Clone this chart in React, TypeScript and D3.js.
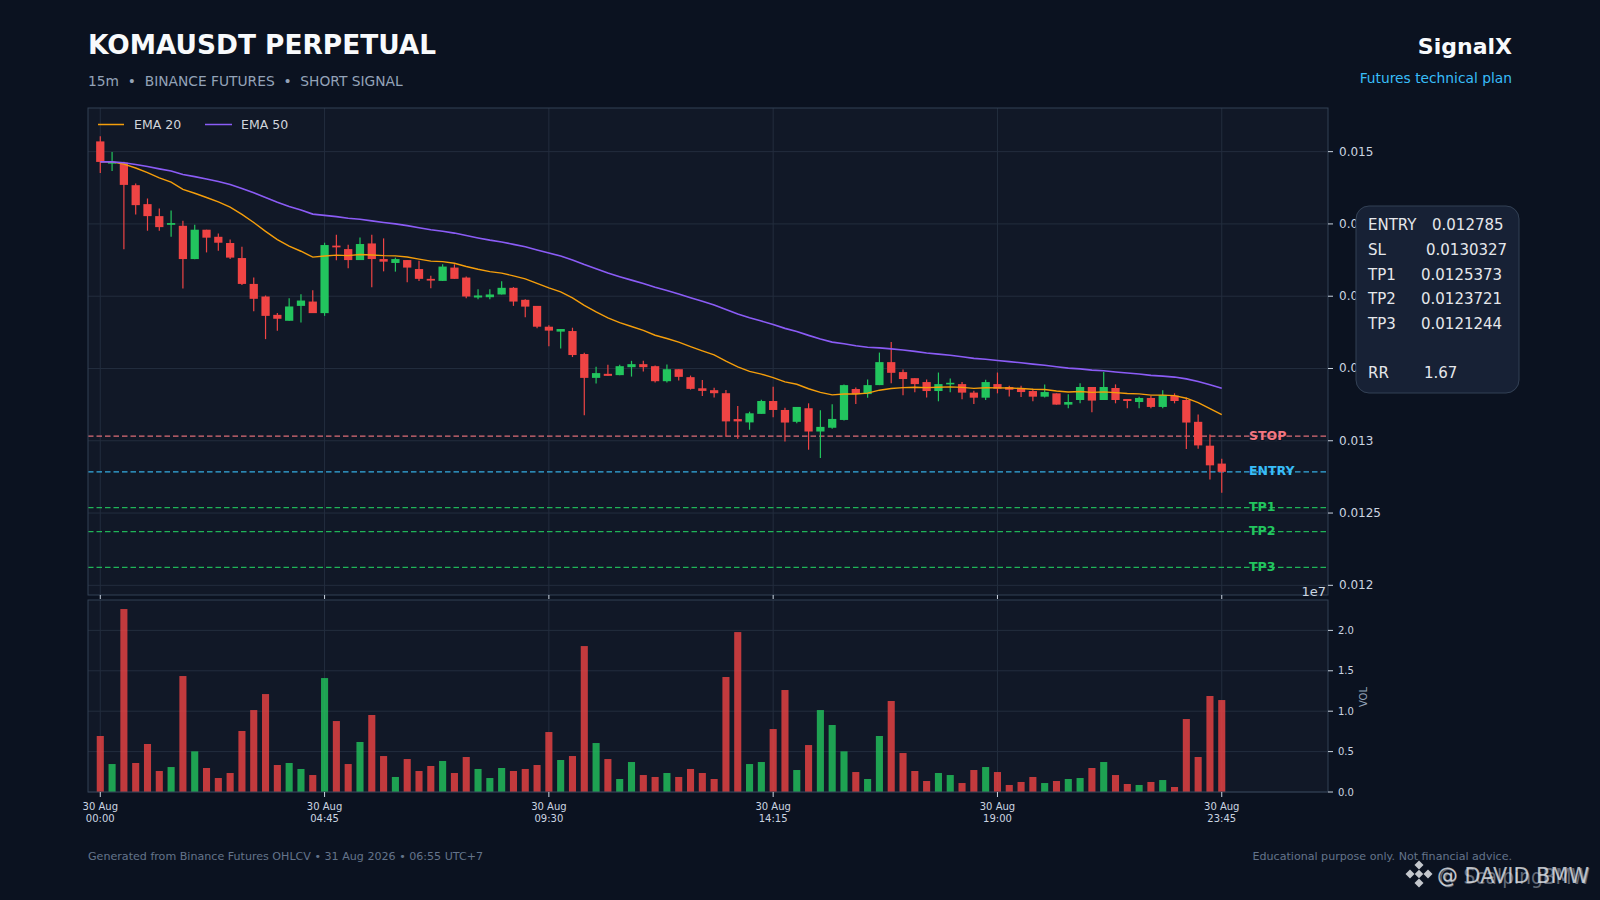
import { useEffect } from 'react'
import * as d3 from 'd3'

// 15m candles, 30 Aug 00:00 -> 23:45
const opens = [
  0.015071, 0.014917, 0.014924, 0.014768, 0.014637, 0.014554, 0.014494, 0.014487, 0.014257, 0.01446,
  0.014411, 0.014368, 0.014264, 0.014085, 0.013998, 0.013871, 0.01383, 0.013933, 0.013963, 0.013883,
  0.01435, 0.014326, 0.01425, 0.014365, 0.014257, 0.01423, 0.01425, 0.014188, 0.01412, 0.014106,
  0.014198, 0.014129, 0.013991, 0.013993, 0.014012, 0.014058, 0.013975, 0.013933, 0.013789, 0.013755,
  0.013759, 0.0136, 0.013435, 0.013463, 0.013454, 0.013509, 0.01353, 0.013516, 0.013412, 0.013495,
  0.01344, 0.013363, 0.01335, 0.013329, 0.01315, 0.013127, 0.013186, 0.013275, 0.013213, 0.013131,
  0.013225, 0.013064, 0.01309, 0.013144, 0.013358, 0.013323, 0.013385, 0.013544, 0.013475, 0.013433,
  0.013406, 0.013344, 0.01339, 0.013392, 0.013333, 0.013298, 0.013392, 0.013372, 0.01336, 0.013344,
  0.013305, 0.013328, 0.01325, 0.013282, 0.013372, 0.013282, 0.013365, 0.013289, 0.013268, 0.013296,
  0.013234, 0.013312, 0.013282, 0.013131, 0.012966, 0.012842,
]
const highs = [
  0.015106, 0.014998, 0.01493, 0.01478, 0.014676, 0.014607, 0.014593, 0.014522, 0.014494, 0.01446,
  0.014434, 0.014393, 0.014342, 0.014129, 0.014005, 0.013883, 0.013986, 0.014014, 0.014041, 0.01437,
  0.014425, 0.014356, 0.014407, 0.014425, 0.0144, 0.014267, 0.01425, 0.014246, 0.014142, 0.014221,
  0.014221, 0.014136, 0.014049, 0.014049, 0.014104, 0.014063, 0.013979, 0.013933, 0.013799, 0.013773,
  0.013782, 0.013609, 0.013512, 0.013525, 0.013525, 0.013553, 0.013553, 0.013521, 0.013528, 0.013495,
  0.013451, 0.013421, 0.013366, 0.013352, 0.013241, 0.013201, 0.013284, 0.013374, 0.013229, 0.013234,
  0.013259, 0.013211, 0.013252, 0.01339, 0.013369, 0.013424, 0.01361, 0.013683, 0.013493, 0.013433,
  0.013424, 0.013472, 0.013431, 0.013406, 0.013346, 0.013422, 0.013472, 0.013381, 0.013381, 0.01336,
  0.01339, 0.013328, 0.013321, 0.013397, 0.013372, 0.013475, 0.01339, 0.013289, 0.013305, 0.01331,
  0.013349, 0.013328, 0.0133, 0.013181, 0.013044, 0.012876,
]
const lows = [
  0.014853, 0.014867, 0.014324, 0.014565, 0.014453, 0.014453, 0.014411, 0.014053, 0.014255, 0.014303,
  0.014315, 0.014257, 0.014078, 0.013896, 0.013703, 0.013761, 0.01383, 0.013818, 0.013883, 0.013864,
  0.014248, 0.014193, 0.01425, 0.014062, 0.014172, 0.01417, 0.014096, 0.014106, 0.014055, 0.014106,
  0.01412, 0.013986, 0.013979, 0.013979, 0.014012, 0.013933, 0.013854, 0.013778, 0.013653, 0.013639,
  0.013579, 0.013176, 0.013396, 0.013449, 0.013454, 0.013444, 0.013479, 0.013403, 0.013403, 0.013417,
  0.013354, 0.01331, 0.013299, 0.01303, 0.013014, 0.013076, 0.013186, 0.013163, 0.012995, 0.013122,
  0.012938, 0.012881, 0.013083, 0.01314, 0.013255, 0.013298, 0.013385, 0.013397, 0.013314, 0.013335,
  0.0133, 0.013273, 0.013335, 0.013287, 0.013255, 0.013282, 0.013328, 0.013307, 0.013303, 0.013273,
  0.0133, 0.01325, 0.013225, 0.013259, 0.013197, 0.013282, 0.013259, 0.013225, 0.013225, 0.013225,
  0.013225, 0.013259, 0.012943, 0.012945, 0.012732, 0.01264,
]
const closes = [
  0.014929, 0.014929, 0.01477, 0.01463, 0.014554, 0.014478, 0.014506, 0.014257, 0.01446, 0.014405,
  0.01437, 0.014267, 0.014085, 0.013982, 0.013864, 0.013844, 0.013929, 0.01397, 0.013883, 0.014354,
  0.014338, 0.01425, 0.014361, 0.014257, 0.014239, 0.014257, 0.014198, 0.01412, 0.014108, 0.014205,
  0.01412, 0.013998, 0.014005, 0.014012, 0.014058, 0.013963, 0.013928, 0.013789, 0.013762, 0.013773,
  0.013593, 0.013435, 0.013468, 0.013449, 0.013516, 0.01353, 0.013509, 0.013412, 0.013495, 0.013442,
  0.013359, 0.013345, 0.013329, 0.013134, 0.013134, 0.01319, 0.013275, 0.013213, 0.013126, 0.013234,
  0.013064, 0.013096, 0.013151, 0.013385, 0.013323, 0.013385, 0.013544, 0.01347, 0.013427, 0.013392,
  0.013344, 0.013392, 0.013401, 0.013333, 0.013298, 0.013406, 0.01336, 0.013353, 0.013337, 0.013305,
  0.013337, 0.01325, 0.013268, 0.013372, 0.013278, 0.013372, 0.013282, 0.013275, 0.013296, 0.013234,
  0.013317, 0.013275, 0.013126, 0.012968, 0.01283, 0.012785,
]
// volume in units of 1e7
const volumes = [
  0.693, 0.346, 2.264, 0.359, 0.594, 0.26, 0.309, 1.435, 0.503, 0.297,
  0.173, 0.235, 0.755, 1.014, 1.212, 0.334, 0.359, 0.285, 0.21, 1.41,
  0.878, 0.346, 0.619, 0.953, 0.445, 0.186, 0.408, 0.26, 0.322, 0.384,
  0.235, 0.433, 0.285, 0.173, 0.297, 0.26, 0.285, 0.334, 0.742, 0.396,
  0.445, 1.806, 0.606, 0.408, 0.161, 0.371, 0.21, 0.186, 0.235, 0.186,
  0.285, 0.235, 0.161, 1.423, 1.979, 0.346, 0.371, 0.779, 1.262, 0.272,
  0.581, 1.014, 0.829, 0.503, 0.247, 0.161, 0.693, 1.126, 0.482, 0.26,
  0.136, 0.235, 0.21, 0.111, 0.272, 0.309, 0.247, 0.087, 0.124, 0.186,
  0.111, 0.136, 0.161, 0.173, 0.297, 0.371, 0.21, 0.099, 0.087, 0.124,
  0.148, 0.062, 0.903, 0.433, 1.188, 1.138,
]

const xTickIdx = [0, 19, 38, 57, 76, 95]
const xTickTime = ['00:00', '04:45', '09:30', '14:15', '19:00', '23:45']
const priceTicks = [0.012, 0.0125, 0.013, 0.0135, 0.014, 0.0145, 0.015]
const volTicks = [0, 0.5, 1.0, 1.5, 2.0]

const levelNames = ['STOP', 'ENTRY', 'TP1', 'TP2', 'TP3']
const levelValues = [0.0130327, 0.012785, 0.0125373, 0.0123721, 0.0121244]
const levelColors = ['#f47680', '#38bdf8', '#22c55e', '#22c55e', '#22c55e']

const planLabels = ['ENTRY', 'SL', 'TP1', 'TP2', 'TP3']
const planValues = ['0.012785', '0.0130327', '0.0125373', '0.0123721', '0.0121244']
const planValueX = [1432, 1426, 1421, 1421, 1421]
const riskReward = '1.67'

const UP = '#22c55e'
const DOWN = '#ef4444'
const FONT = 'DejaVu Sans, Verdana, sans-serif'

function ema(vals: number[], span: number) {
  const a = 2 / (span + 1)
  const out: number[] = []
  vals.forEach((v, i) => out.push(i === 0 ? v : a * v + (1 - a) * out[i - 1]))
  return out
}

export default function App() {
  useEffect(() => {
    document.body.style.margin = '0'
    document.body.style.background = '#0b1220'
  }, [])

  const L = 88, R = 1328, pTop = 108, pBot = 595, vTop = 600, vBot = 792
  const n = closes.length
  const x = d3.scaleLinear().domain([-1.04, 104]).range([L, R])
  const y = d3.scaleLinear().domain([0.011933, 0.015302]).range([pBot, pTop])
  const yv = d3.scaleLinear().domain([0, 2.376]).range([vBot, vTop])
  const step = x(1) - x(0)
  const bw = step * 0.7
  const vw = step * 0.6

  const ema20 = ema(closes, 20)
  const ema50 = ema(closes, 50)
  const line = d3.line<number>().x((_, i) => x(i)).y(d => y(d))

  const grid = '#232d3e'
  const spine = '#334155'
  const tickTxt = '#cbd5e1'
  const idx = d3.range(n)

  return (
    <svg width={1600} height={900} style={{ display: 'block', background: '#0b1220', fontFamily: FONT }}>
      <defs>
        <clipPath id="pclip"><rect x={L} y={pTop} width={R - L} height={pBot - pTop} /></clipPath>
      </defs>

      {/* header */}
      <text x={88} y={54} fill="#f8fafc" fontSize={26.4} fontWeight="bold">KOMAUSDT PERPETUAL</text>
      <text x={88} y={86} fill="#94a3b8" fontSize={13.8} style={{ whiteSpace: 'pre' }}>{'15m  •  BINANCE FUTURES  •  SHORT SIGNAL'}</text>
      <text x={1512} y={54} fill="#f8fafc" fontSize={22} fontWeight="bold" textAnchor="end">SignalX</text>
      <text x={1512} y={83} fill="#38bdf8" fontSize={13.8} textAnchor="end">Futures technical plan</text>

      {/* price panel */}
      <rect x={L} y={pTop} width={R - L} height={pBot - pTop} fill="#111827" />
      {priceTicks.map(t => (
        <line key={'pg' + t} x1={L} x2={R} y1={y(t)} y2={y(t)} stroke={grid} strokeWidth={1} />
      ))}
      {xTickIdx.map(i => (
        <line key={'xg' + i} x1={x(i)} x2={x(i)} y1={pTop} y2={pBot} stroke={grid} strokeWidth={1} />
      ))}

      <g clipPath="url(#pclip)">
        {levelValues.map((v, k) => (
          <g key={levelNames[k]}>
            <text x={1249} y={y(v) - 1} fill={levelColors[k]} fontSize={12.5} fontWeight="bold"
              dominantBaseline="central" stroke="#111827" strokeWidth={2.5} paintOrder="stroke">{levelNames[k]}</text>
            <line x1={L} x2={R} y1={y(v)} y2={y(v)} stroke={levelColors[k]} strokeWidth={1.3}
              strokeDasharray="5.5 3" opacity={0.9} />
          </g>
        ))}

        {idx.map(i => {
          const up = closes[i] >= opens[i]
          const c = up ? UP : DOWN
          const top = y(Math.max(opens[i], closes[i]))
          const h = Math.max(1.3, Math.abs(y(opens[i]) - y(closes[i])))
          return (
            <g key={'c' + i}>
              <line x1={x(i)} x2={x(i)} y1={y(highs[i])} y2={y(lows[i])} stroke={c} strokeWidth={1.2} />
              <rect x={x(i) - bw / 2} y={top} width={bw} height={h} fill={c} />
            </g>
          )
        })}

        <path d={line(ema20) || ''} fill="none" stroke="#f59e0b" strokeWidth={1.4} />
        <path d={line(ema50) || ''} fill="none" stroke="#8b5cf6" strokeWidth={1.6} />
      </g>
      <rect x={L} y={pTop} width={R - L} height={pBot - pTop} fill="none" stroke={spine} strokeWidth={1} />

      {/* legend */}
      <line x1={98} x2={124} y1={124.5} y2={124.5} stroke="#f59e0b" strokeWidth={1.5} />
      <text x={134} y={129} fill="#d1d5db" fontSize={12.5}>EMA 20</text>
      <line x1={205} x2={232} y1={124.5} y2={124.5} stroke="#8b5cf6" strokeWidth={1.5} />
      <text x={241} y={129} fill="#d1d5db" fontSize={12.5}>EMA 50</text>

      {/* price axis */}
      {priceTicks.map(t => (
        <g key={'pt' + t}>
          <line x1={R} x2={R + 5} y1={y(t)} y2={y(t)} stroke={tickTxt} strokeWidth={1} />
          <text x={R + 11} y={y(t)} fill={tickTxt} fontSize={12} dominantBaseline="central">{String(+t.toFixed(4))}</text>
        </g>
      ))}
      {xTickIdx.map(i => (
        <line key={'pxt' + i} x1={x(i)} x2={x(i)} y1={pBot} y2={pBot + 4} stroke={tickTxt} strokeWidth={1} />
      ))}

      {/* volume panel */}
      <rect x={L} y={vTop} width={R - L} height={vBot - vTop} fill="#111827" />
      {volTicks.map(t => (
        <line key={'vg' + t} x1={L} x2={R} y1={yv(t)} y2={yv(t)} stroke={grid} strokeWidth={1} />
      ))}
      {xTickIdx.map(i => (
        <line key={'vxg' + i} x1={x(i)} x2={x(i)} y1={vTop} y2={vBot} stroke={grid} strokeWidth={1} />
      ))}
      {idx.map(i => (
        <rect key={'v' + i} x={x(i) - vw / 2} y={yv(volumes[i])} width={vw} height={yv(0) - yv(volumes[i])}
          fill={closes[i] >= opens[i] ? UP : DOWN} opacity={0.8} />
      ))}
      <rect x={L} y={vTop} width={R - L} height={vBot - vTop} fill="none" stroke={spine} strokeWidth={1} />
      <text x={1326} y={596} fill={tickTxt} fontSize={13} textAnchor="end">1e7</text>

      {volTicks.map(t => (
        <g key={'vt' + t}>
          <line x1={R} x2={R + 5} y1={yv(t)} y2={yv(t)} stroke={tickTxt} strokeWidth={1} />
          <text x={R + 10} y={yv(t)} fill={tickTxt} fontSize={10} dominantBaseline="central">{d3.format('.1f')(t)}</text>
        </g>
      ))}
      <text transform="translate(1367,697) rotate(-90)" fill="#94a3b8" fontSize={10} textAnchor="middle">VOL</text>

      {xTickIdx.map((i, k) => (
        <g key={'xt' + i}>
          <line x1={x(i)} x2={x(i)} y1={vBot} y2={vBot + 5} stroke={tickTxt} strokeWidth={1} />
          <text x={x(i)} y={810} fill={tickTxt} fontSize={10} textAnchor="middle">30 Aug</text>
          <text x={x(i)} y={821.5} fill={tickTxt} fontSize={10} textAnchor="middle">{xTickTime[k]}</text>
        </g>
      ))}

      {/* plan box */}
      <rect x={1356} y={206} width={163} height={187} rx={13} fill="#172135" stroke="#334155" strokeWidth={1} />
      {planLabels.map((lab, k) => (
        <g key={'pl' + lab}>
          <text x={1368} y={230 + k * 24.8} fill="#e5e7eb" fontSize={15}>{lab}</text>
          <text x={planValueX[k]} y={230 + k * 24.8} fill="#e5e7eb" fontSize={15}>{planValues[k]}</text>
        </g>
      ))}
      <text x={1368} y={378} fill="#e5e7eb" fontSize={15}>RR</text>
      <text x={1424} y={378} fill="#e5e7eb" fontSize={15}>{riskReward}</text>

      {/* footer */}
      <text x={88} y={860} fill="#64748b" fontSize={11.1}>Generated from Binance Futures OHLCV • 31 Aug 2026 • 06:55 UTC+7</text>
      <text x={1512} y={860} fill="#64748b" fontSize={11.1} textAnchor="end">Educational purpose only. Not financial advice.</text>

      {/* watermark */}
      <g transform="translate(1419,874)" fill="#e5e7eb" opacity={0.85}>
        {[[0, 0, 3], [0, -9, 3.2], [0, 9, 3.2], [-9, 0, 3.2], [9, 0, 3.2]].map(([dx, dy, s], k) => (
          <rect key={'bn' + k} x={dx - s} y={dy - s} width={s * 2} height={s * 2} transform={`rotate(45 ${dx} ${dy})`} />
        ))}
      </g>
      <text x={1439} y={884} fill="#9ca3af" fontSize={21} opacity={0.6} textLength={151} lengthAdjust="spacingAndGlyphs">@ ScalpingBMW</text>
      <text x={1437} y={883} fill="#e5e7eb" fontSize={21} opacity={0.8} textLength={152} lengthAdjust="spacingAndGlyphs">@ DAVID BMW</text>
    </svg>
  )
}
